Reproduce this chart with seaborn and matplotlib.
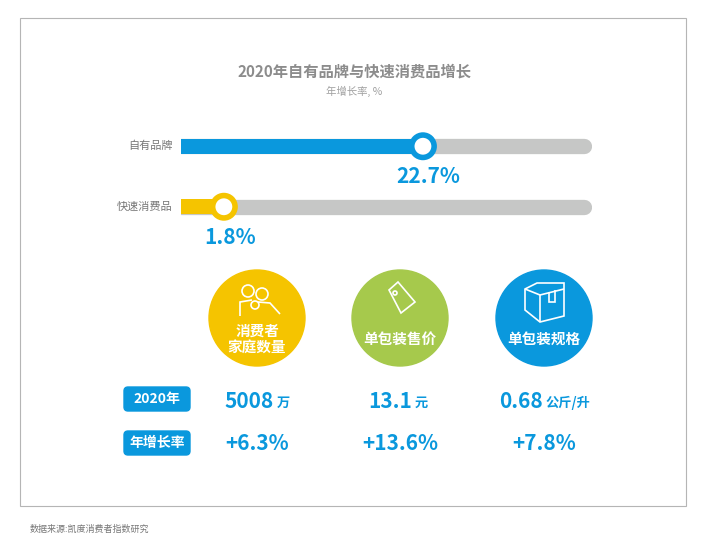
import matplotlib
matplotlib.use('Agg')
import matplotlib.pyplot as plt
import pandas as pd
import seaborn as sns
from matplotlib.patches import Rectangle, Circle, FancyBboxPatch, Polygon

plt.rcParams['font.family'] = 'Noto Sans CJK SC'

categories = ['自有品牌', '快速消费品']
growth = [22.7, 1.8]
bar_colors = ['#0a98dd', '#f5c400']
track_max = 40.45
axis_min = -2.7

metric_names = ['消费者\n家庭数量', '单包装售价', '单包装规格']
metric_colors = ['#f5c400', '#a6c94c', '#0a98dd']
value_2020 = ['5008', '13.1', '0.68']
value_units = ['万', '元', '公斤/升']
value_growth = ['+6.3%', '+13.6%', '+7.8%']

BLUE = '#0a98dd'
GRAY = '#8c8c8c'

W, H = 708, 557
fig = plt.figure(figsize=(W / 100, H / 100), dpi=100)
bg = fig.add_axes([0, 0, 1, 1])
bg.set_xlim(0, W)
bg.set_ylim(H, 0)
bg.axis('off')

# frame and header
bg.add_patch(Rectangle((20, 18), 666, 488, fill=False, ec='#b5b5b5', lw=0.8))
bg.text(354, 72, '2020年自有品牌与快速消费品增长', ha='center', va='center',
        fontsize=11, fontweight='bold', color=GRAY)
bg.text(354, 91, '年增长率, %', ha='center', va='center', fontsize=7.5, color='#a0a0a0')
bg.text(30, 529, '数据来源:凯度消费者指数研究', ha='left', va='center', fontsize=6.5, color='#777777')

# progress bars
ax = fig.add_axes([181 / W, 1 - 237 / H, 411 / W, 121 / H])
df = pd.DataFrame({'cat': categories, 'val': growth})
for i in range(len(categories)):
    ax.plot([axis_min, track_max - 0.8], [i, i], color='#c6c7c6', lw=11,
            solid_capstyle='round', zorder=1)
    ax.barh(i, growth[i] - axis_min, left=axis_min, height=0.25,
            color=bar_colors[i], zorder=2)
sns.scatterplot(data=df, x='val', y='cat', ax=ax, s=260, color='white',
                edgecolor=bar_colors, linewidth=4, zorder=3, legend=False)
ax.set_xlim(axis_min, track_max)
ax.set_ylim(1.5, -0.5)
ax.axis('off')
for i, c in enumerate(categories):
    ax.text(-0.02, i, c, transform=ax.get_yaxis_transform(), ha='right', va='center',
            fontsize=8, color='#777777')
    ax.text(growth[i] + 0.6, i + 0.5, f'{growth[i]}%', ha='center', va='center',
            fontsize=15, fontweight='bold', color=BLUE)

# metric circles
cx = [257, 400, 544]
cy = 318
for x, name, col in zip(cx, metric_names, metric_colors):
    bg.add_patch(Circle((x, cy), 48, color=col))
    bg.text(x, cy + 21, name, ha='center', va='center', fontsize=10.5, fontweight='bold',
            color='white', linespacing=1.1)

# simple icons
wkw = dict(fill=False, ec='white', lw=1.2)
bg.add_patch(Circle((248, 291), 6, **wkw))
bg.add_patch(Circle((262, 294), 6, **wkw))
bg.add_patch(Circle((255, 305), 4, **wkw))
bg.add_patch(Polygon([(240, 316), (240, 302), (252, 300)], closed=False, **wkw))
bg.add_patch(Polygon([(258, 302), (270, 303), (280, 314)], closed=False, **wkw))
bg.add_patch(Polygon([(389, 290), (398, 282), (415, 302), (401, 313)], closed=True, **wkw))
bg.add_patch(Circle((395, 293), 2, **wkw))
bg.add_patch(Polygon([(525, 289), (537, 283), (564, 283), (564, 316), (540, 322), (525, 310)],
                     closed=True, **wkw))
bg.add_patch(Polygon([(525, 289), (540, 295), (564, 289)], closed=False, **wkw))
bg.add_patch(Polygon([(540, 295), (540, 322)], closed=False, **wkw))
bg.add_patch(Polygon([(549, 292), (549, 302), (555, 302), (555, 290)], closed=False, **wkw))

# table
for y, lab in [(399, '2020年'), (443, '年增长率')]:
    bg.add_patch(FancyBboxPatch((124, y - 12), 66, 24, boxstyle='round,pad=0,rounding_size=4',
                                color=BLUE))
    bg.text(157, y, lab, ha='center', va='center', fontsize=10, fontweight='bold', color='white')

num_right = [274, 412, 543]
for xr, v, u, g, x in zip(num_right, value_2020, value_units, value_growth, cx):
    bg.text(xr, 401, v, ha='right', va='center', fontsize=15, fontweight='bold', color=BLUE)
    bg.text(xr + 3, 403, u, ha='left', va='center', fontsize=9.5, fontweight='bold', color=BLUE)
    bg.text(x, 443, g, ha='center', va='center', fontsize=15, fontweight='bold', color=BLUE)

fig.savefig('out.png', dpi=100)
